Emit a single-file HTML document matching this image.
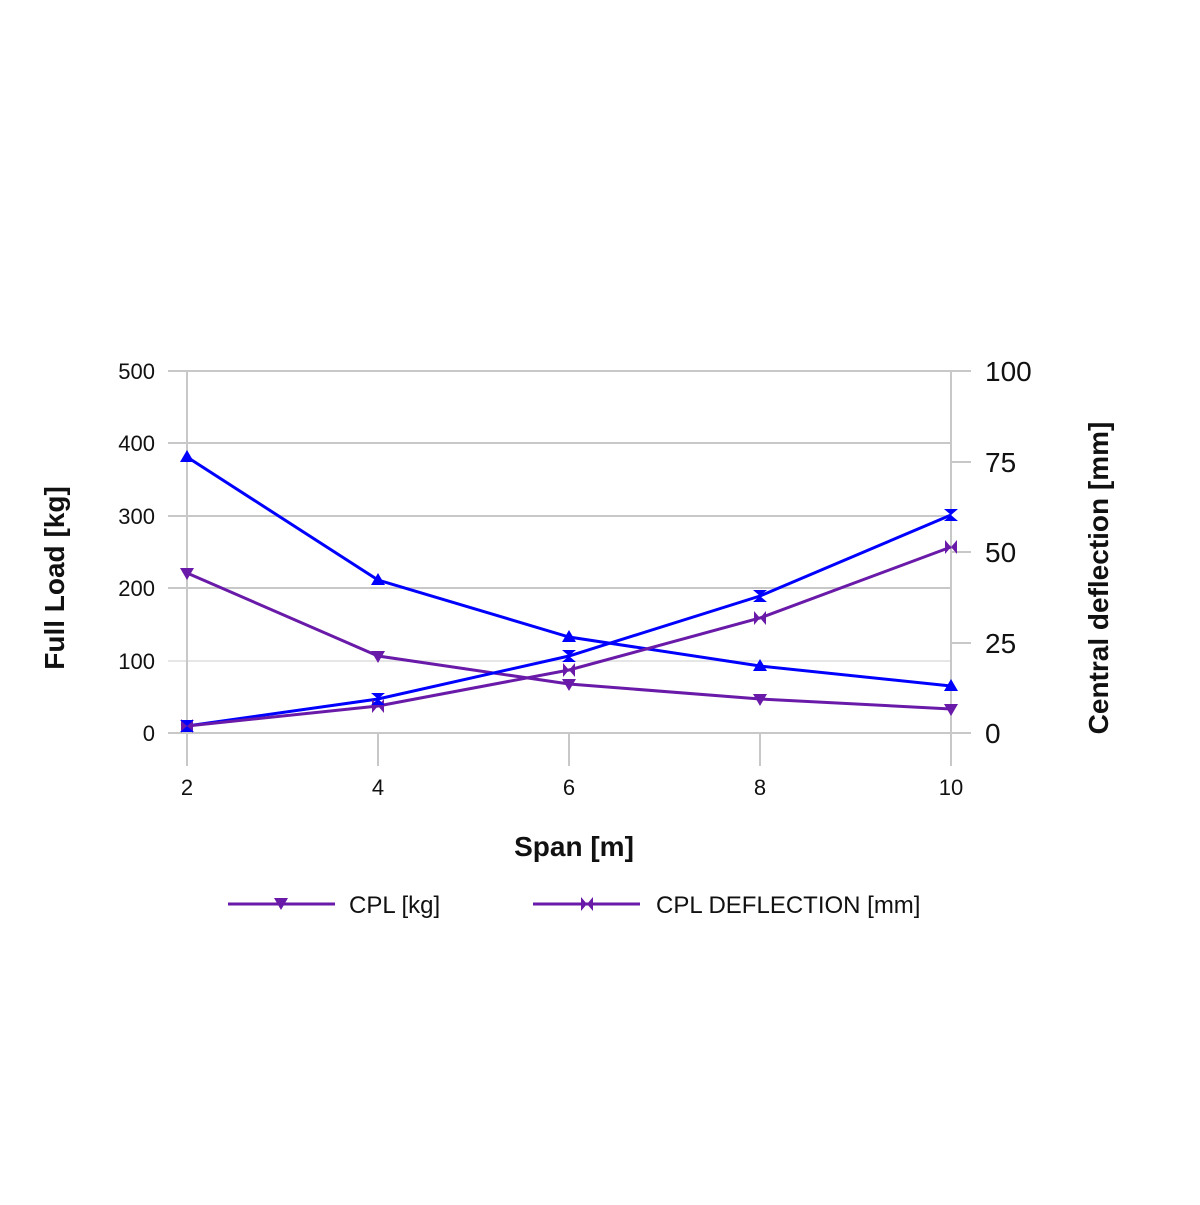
<!DOCTYPE html>
<html><head><meta charset="utf-8"><style>body{margin:0;background:#fff}</style></head><body>
<svg width="1200" height="1200" xmlns="http://www.w3.org/2000/svg" font-family="Liberation Sans, DejaVu Sans, sans-serif">
<defs>
<path id="up" d="M-7,5 L7,5 L0,-7 Z"/>
<path id="dn" d="M-7,-5 L7,-5 L0,7 Z"/>
<path id="hg" d="M-7,-6 L7,-6 L-7,6 L7,6 Z"/>
<path id="bt" d="M-6,-7 L-6,7 L6,-7 L6,7 Z"/>
</defs>
<g stroke="#c8c8c8" stroke-width="2">
<line x1="168" y1="371" x2="951" y2="371"/>
<line x1="168" y1="443" x2="951" y2="443"/>
<line x1="168" y1="516" x2="951" y2="516"/>
<line x1="168" y1="588" x2="951" y2="588"/>
<line x1="168" y1="661" x2="951" y2="661" stroke="#e6e6e6"/>
<line x1="168" y1="733" x2="951" y2="733"/>
<line x1="187" y1="371" x2="187" y2="766"/>
<line x1="951" y1="371" x2="951" y2="766"/>
<line x1="378" y1="733" x2="378" y2="766"/>
<line x1="569" y1="733" x2="569" y2="766"/>
<line x1="760" y1="733" x2="760" y2="766"/>
<line x1="951" y1="371" x2="971" y2="371"/>
<line x1="951" y1="462" x2="971" y2="462"/>
<line x1="951" y1="552" x2="971" y2="552"/>
<line x1="951" y1="643" x2="971" y2="643"/>
<line x1="951" y1="733" x2="971" y2="733"/>
</g>
<g font-size="22" fill="#111" text-anchor="end">
<text x="155" y="379">500</text><text x="155" y="451">400</text><text x="155" y="524">300</text>
<text x="155" y="596">200</text><text x="155" y="669">100</text><text x="155" y="741">0</text>
</g>
<g font-size="28" fill="#111">
<text x="985" y="381">100</text><text x="985" y="472">75</text><text x="985" y="562">50</text>
<text x="985" y="653">25</text><text x="985" y="743">0</text>
</g>
<g font-size="22" fill="#111" text-anchor="middle">
<text x="187" y="795">2</text><text x="378" y="795">4</text><text x="569" y="795">6</text>
<text x="760" y="795">8</text><text x="951" y="795">10</text>
</g>
<text x="574" y="856" font-size="28" font-weight="bold" text-anchor="middle" fill="#111">Span [m]</text>
<text transform="translate(64,578) rotate(-90)" font-size="28" font-weight="bold" text-anchor="middle" fill="#111">Full Load [kg]</text>
<text transform="translate(1108,578) rotate(-90)" font-size="28" font-weight="bold" text-anchor="middle" fill="#111">Central deflection [mm]</text>
<g fill="none" stroke-width="3">
<polyline stroke="#0000ff" points="187,457 378,580 569,637 760,666 951,686"/>
<polyline stroke="#6a1aa8" points="187,573 378,656 569,684 760,699 951,709"/>
<polyline stroke="#0000ff" points="187,726 378,699 569,656 760,596 951,515"/>
<polyline stroke="#6a1aa8" points="187,726 378,706 569,670 760,618 951,547"/>
</g>
<g fill="#6a1aa8"><use href="#dn" x="187" y="573"/><use href="#dn" x="378" y="656"/><use href="#dn" x="569" y="684"/><use href="#dn" x="760" y="699"/><use href="#dn" x="951" y="709"/></g>
<g fill="#6a1aa8"><use href="#bt" x="187" y="726"/><use href="#bt" x="378" y="706"/><use href="#bt" x="569" y="670"/><use href="#bt" x="760" y="618"/><use href="#bt" x="951" y="547"/></g>
<g fill="#0000ff"><use href="#up" x="187" y="457"/><use href="#up" x="378" y="580"/><use href="#up" x="569" y="637"/><use href="#up" x="760" y="666"/><use href="#up" x="951" y="686"/></g>
<g fill="#0000ff"><use href="#hg" x="187" y="726"/><use href="#hg" x="378" y="699"/><use href="#hg" x="569" y="656"/><use href="#hg" x="760" y="596"/><use href="#hg" x="951" y="515"/></g>
<line x1="228" y1="904" x2="335" y2="904" stroke="#6a1aa8" stroke-width="3"/>
<use href="#dn" x="281" y="903" fill="#6a1aa8"/>
<text x="349" y="913" font-size="24" fill="#111">CPL [kg]</text>
<line x1="533" y1="904" x2="640" y2="904" stroke="#6a1aa8" stroke-width="3"/>
<use href="#bt" x="587" y="904" fill="#6a1aa8"/>
<text x="656" y="913" font-size="24" fill="#111">CPL DEFLECTION [mm]</text>
</svg>
</body></html>
